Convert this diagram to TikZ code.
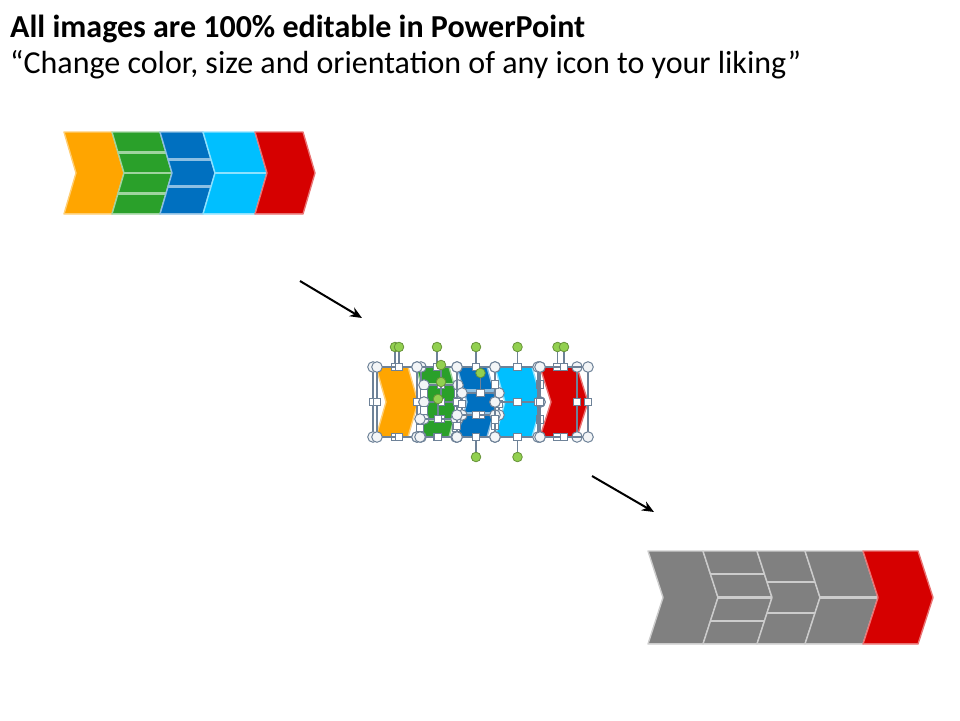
\documentclass[tikz,border=0pt]{standalone}
\usepackage{fontspec}
\setmainfont{Carlito}
\usepackage{xcolor}
\usetikzlibrary{arrows.meta}
\definecolor{chorange}{RGB}{255,165,0}
\definecolor{chgreen}{RGB}{42,160,42}
\definecolor{chblue}{RGB}{0,112,192}
\definecolor{chsky}{RGB}{0,191,255}
\definecolor{chred}{RGB}{214,0,0}
\definecolor{chgray}{RGB}{128,128,128}
\definecolor{selblue}{RGB}{110,130,152}
\definecolor{rotgreen}{RGB}{146,208,80}

% chevron: x1, x2, y1, y2, depth, rows, fill, edge
\newcommand{\chevron}[8]{%
  \begin{scope}
    \clip (#1,#3) -- (#2,#3) -- ({#2+#5},{(#3+#4)/2}) -- (#2,#4) -- (#1,#4) -- ({#1+#5},{(#3+#4)/2}) -- cycle;
    \fill[#7] (#1,#3) rectangle ({#2+#5},#4);
    \foreach \k in {1,...,#6}
      \draw[#8, line width=2.4pt] (#1,{#3+\k*(#4-#3)/#6}) -- ({#2+#5},{#3+\k*(#4-#3)/#6});
  \end{scope}
  \draw[#8, line width=1.4pt, line join=round] (#1,#3) -- (#2,#3) -- ({#2+#5},{(#3+#4)/2}) -- (#2,#4) -- (#1,#4) -- ({#1+#5},{(#3+#4)/2}) -- cycle;
}

% selection frame: x1, y1, x2, y2, rotation handle (1 up, -1 down, 0 none)
\newcommand{\selbox}[5]{%
  \draw[selline] (#1,#2) rectangle (#3,#4);
  \ifnum#5=1
    \draw[selline] ({(#1+#3)/2},#2) -- ({(#1+#3)/2},{#2-20});
    \filldraw[rothandle] ({(#1+#3)/2},{#2-20}) circle (4.8);
  \fi
  \ifnum#5=-1
    \draw[selline] ({(#1+#3)/2},#4) -- ({(#1+#3)/2},{#4+20});
    \filldraw[rothandle] ({(#1+#3)/2},{#4+20}) circle (4.8);
  \fi
  \foreach \hx/\hy in {#1/#2, #3/#2, #1/#4, #3/#4}
    \filldraw[cornerhandle] (\hx,\hy) circle (5.3);
  \foreach \hx/\hy in {{(#1+#3)/2}/#2, {(#1+#3)/2}/#4, #1/{(#2+#4)/2}, #3/{(#2+#4)/2}}
    \filldraw[sidehandle] ({\hx-3.8},{\hy-3.8}) rectangle ++(7.6,7.6);
}

\begin{document}
\begin{tikzpicture}[x=1pt, y=-1pt,
    headline/.style={anchor=base west, inner sep=0pt, font=\fontsize{32}{38}\selectfont},
    selline/.style={draw=selblue, line width=1.1pt},
    cornerhandle/.style={fill=white!92!selblue, draw=selblue, line width=1pt},
    sidehandle/.style={fill=white, draw=selblue, line width=1pt},
    rothandle/.style={fill=rotgreen, draw=rotgreen!70!black, line width=0.8pt},
    arrow/.style={-{Stealth[length=12pt, width=10pt]}, line width=2pt, black}
]
\useasboundingbox (0,0) rectangle (960,720);

% Heading
\node[headline] (title) at (10,37) {\textbf{All images are 100\% editable in PowerPoint}};
\node[headline] (subtitle) at (10,73) {“Change color, size and orientation of any icon to your liking”};

% Coloured chevrons
\chevron{64}{112}{132}{214}{12}{1}{chorange}{chorange!55!white}
\chevron{112}{160}{132}{214}{12}{4}{chgreen}{chgreen!45!white}
\chevron{160}{203}{132}{214}{12}{3}{chblue}{chblue!45!white}
\chevron{203}{255}{132}{214}{12}{2}{chsky}{chsky!45!white}
\chevron{255}{303}{132}{214}{12}{1}{chred}{chred!55!white}

% Selected chevrons
\chevron{376}{408}{367}{437}{10}{1}{chorange}{chorange!55!white}
\chevron{416}{449}{367}{437}{10}{4}{chgreen}{chgreen!45!white}
\chevron{457}{487}{367}{437}{10}{3}{chblue}{chblue!45!white}
\chevron{495}{532}{367}{437}{10}{2}{chsky}{chsky!45!white}
\chevron{540}{577}{367}{437}{11}{1}{chred}{chred!55!white}

\selbox{373}{367}{417}{437}{1}
\selbox{377}{367}{421}{437}{1}
\selbox{417}{367}{457}{437}{1}
\selbox{424}{385}{458}{402}{1}
\selbox{424}{402}{458}{419}{1}
\selbox{420}{419}{456}{437}{1}
\selbox{457}{367}{495}{437}{1}
\selbox{462}{393}{499}{415}{1}
\selbox{457}{415}{495}{437}{-1}
\selbox{495}{367}{540}{402}{1}
\selbox{495}{402}{540}{437}{-1}
\selbox{538}{367}{577}{437}{1}
\selbox{540}{367}{588}{437}{1}

% Grey chevrons
\chevron{648}{703}{551}{644}{15}{1}{chgray}{chgray!40!white}
\chevron{703}{757}{551}{644}{15}{4}{chgray}{chgray!40!white}
\chevron{757}{805}{551}{644}{15}{3}{chgray}{chgray!40!white}
\chevron{805}{863}{551}{644}{15}{2}{chgray}{chgray!40!white}
\chevron{863}{918}{551}{644}{15}{1}{chred}{chred!55!white}

% Arrows
\coordinate (a1s) at (300,281);
\coordinate (a1e) at (362,318);
\coordinate (a2s) at (592,476);
\coordinate (a2e) at (654,512);
\draw[arrow] (a1s) -- (a1e);
\draw[arrow] (a2s) -- (a2e);

\end{tikzpicture}
\end{document}
